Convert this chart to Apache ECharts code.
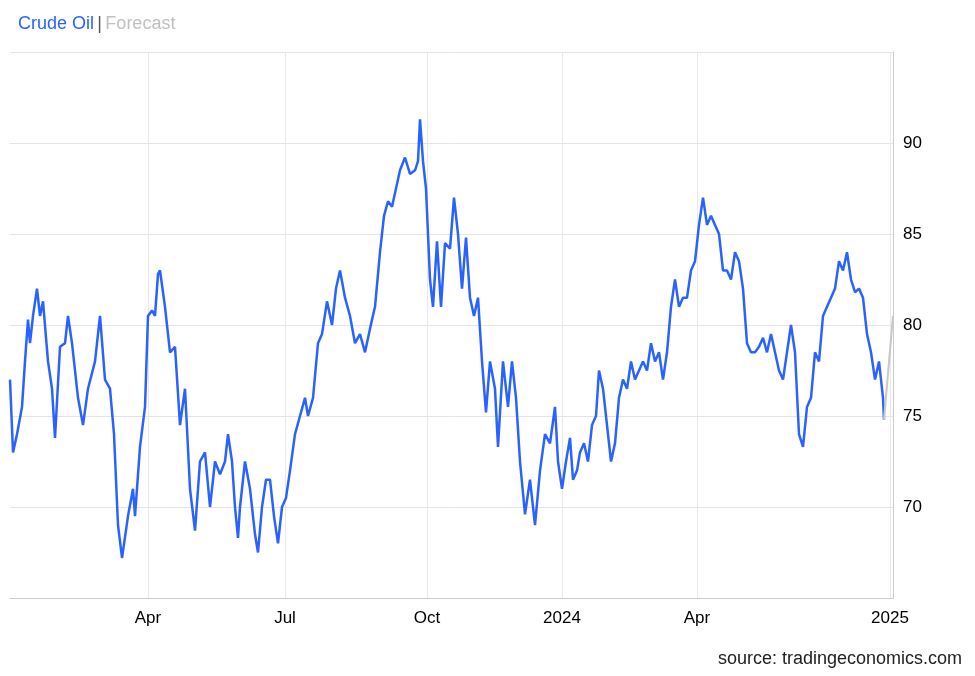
<!DOCTYPE html>
<html><head><meta charset="utf-8">
<script src="https://cdn.jsdelivr.net/npm/echarts@6/dist/echarts.min.js"></script>
<style>html,body{margin:0;background:#fff}#c{width:975px;height:676px}</style>
</head><body><div id="c"></div>
<script>
// day position (trading-day counter along the axis) and price
const days=[0,3,7,12,15,18,20,23,27,30,33,38,42,45,50,55,58,62,68,73,78,85,90,95,100,104,108,112,118,123,125,130,135,138,142,145,148,150,155,160,165,170,175,180,185,190,195,200,205,210,215,218,222,225,228,230,235,240,245,248,252,256,260,264,268,272,276,280,285,290,295,298,303,308,312,317,322,326,330,335,340,345,350,355,360,365,370,374,378,382,386,390,395,400,405,408,410,413,416,420,423,427,431,435,440,444,448,452,456,460,464,468,472,476,480,485,488,493,498,502,506,510,515,520,525,530,535,540,545,548,552,556,560,563,567,570,574,578,582,586,589,593,597,601,605,609,613,617,621,625,629,633,637,641,645,649,653,657,661,665,669,673,677,681,685,689,693,697,701,705,709,713,717,721,725,729,733,737,741,745,749,753,757,761,765,769,773,777,781,785,789,793,797,801,805,809,813,817,821,825,829,833,837,841,845,849,853,857,861,865,869,873,874];
const price=[77,73,74,75.5,78,80.3,79,80.5,82,80.5,81.3,78,76.5,73.8,78.8,79,80.5,79,76,74.5,76.5,78,80.5,77,76.5,74,69,67.2,69.5,71,69.5,73.3,75.5,80.5,80.8,80.5,82.8,83,81,78.5,78.8,74.5,76.5,71,68.7,72.5,73,70,72.5,71.8,72.5,74,72.5,70,68.3,70,72.5,71,68.5,67.5,70,71.5,71.5,69.5,68,70,70.5,72,74,75,76,75,76,79,79.5,81.3,80,82,83,81.5,80.5,79,79.5,78.5,79.8,81,84,86,86.8,86.5,87.5,88.5,89.2,88.3,88.5,89,91.3,89,87.5,82.5,81,84.6,81,84.5,84.2,87,85,82,84.8,81.5,80.5,81.5,78,75.2,78,76.5,73.3,78,75.5,78,76,72.5,69.6,71.5,69,72,74,73.5,75.5,72.5,71,72.5,73.8,71.5,72,73,73.5,72.5,74.5,75,77.5,76.5,74.5,72.5,73.5,76,77,76.5,78,77,77.5,78,77.5,79,78,78.5,77,78.5,81,82.5,81,81.5,81.5,83,83.5,85.5,87,85.5,86,85.5,85,83,83,82.5,84,83.5,82,79,78.5,78.5,78.8,79.3,78.5,79.5,78.5,77.5,77,78.5,80,78.5,74,73.3,75.5,76,78.5,78,80.5,81,81.5,82,83.5,83,84,82.5,81.8,82,81.5,79.5,78.5,77,78,76,74.8];
const forecastDays=[874,883];
const forecastPrice=[74.8,80.5];
const tickDays=[138,275,417,552,687,880];
const tickLabels=['Apr','Jul','Oct','2024','Apr','2025'];
const N=884;
const cats=Array.from({length:N},(_,i)=>String(i));
const isTick=i=>tickDays.indexOf(i)>=0;
const chart=echarts.init(document.getElementById('c'));
chart.setOption({
  animation:false,
  grid:{left:10,right:82,top:52,bottom:78},
  xAxis:{type:'category',data:cats,boundaryGap:false,
    axisLine:{lineStyle:{color:'#ccc'}},axisTick:{show:false},
    axisLabel:{interval:(i)=>isTick(i),formatter:(v,i)=>tickLabels[tickDays.indexOf(+v)]||'',color:'#000',fontSize:17,fontFamily:'Arial, Liberation Sans',margin:12},
    splitLine:{show:true,interval:(i)=>isTick(i),lineStyle:{color:'#e8e8e8'}}},
  yAxis:{type:'value',position:'right',min:65,max:95,interval:5,
    axisLine:{show:true,lineStyle:{color:'#ccc'}},
    axisLabel:{formatter:v=>(v===65||v===95)?'':v,color:'#000',fontSize:17,fontFamily:'Arial, Liberation Sans',margin:10},
    splitLine:{lineStyle:{color:'#e4e4e4'}}},
  series:[
    {type:'line',data:days.map((d,i)=>[String(d),price[i]]),showSymbol:false,lineStyle:{color:'#2962ff',width:2.5}},
    {type:'line',data:forecastDays.map((d,i)=>[String(d),forecastPrice[i]]),showSymbol:false,lineStyle:{color:'#c8c8c8',width:2}}
  ],
  graphic:[
    {type:'text',left:18,top:15,style:{text:'{a|Crude Oil} {b||} {c|Forecast}',rich:{a:{fill:'#2962ff',fontSize:18,fontFamily:'Arial, Liberation Sans'},b:{fill:'#555',fontSize:18,fontFamily:'Arial, Liberation Sans'},c:{fill:'#c0c0c0',fontSize:18,fontFamily:'Arial, Liberation Sans'}}}},
    {type:'text',right:13,top:650,style:{text:'source: tradingeconomics.com',fill:'#222',fontSize:18,fontFamily:'Arial, Liberation Sans'}}
  ]
});
</script></body></html>
